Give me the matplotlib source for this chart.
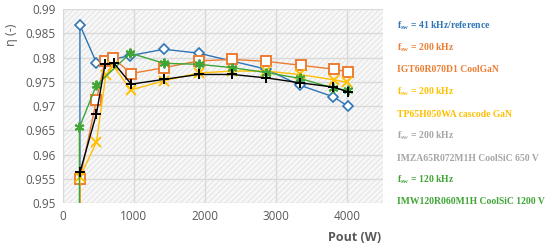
import matplotlib
matplotlib.use("Agg")
import matplotlib.pyplot as plt
from matplotlib.patches import Rectangle

# ---- data ----
blue_x = [242, 242, 474, 950, 1424, 1908, 2858, 3328, 3803, 4003]
blue_y = [0.940, 0.9867, 0.9789, 0.9804, 0.9817, 0.9809, 0.9776, 0.9743, 0.9719, 0.9700]

orange_x = [242, 242, 474, 595, 712, 963, 1424, 1908, 2383, 2863, 3342, 3807, 4013]
orange_y = [0.940, 0.9550, 0.9712, 0.9793, 0.9798, 0.9767, 0.9779, 0.9793, 0.9796, 0.9792, 0.9784, 0.9776, 0.9770]

yellow_x = [242, 242, 474, 605, 712, 954, 1424, 1908, 2383, 2858, 3328, 3807, 3994]
yellow_y = [0.940, 0.9553, 0.9626, 0.9763, 0.9783, 0.9733, 0.9752, 0.9768, 0.9772, 0.9772, 0.9765, 0.9754, 0.9749]

black_x = [242, 474, 595, 721, 963, 1424, 1908, 2383, 2858, 3328, 3803, 4013]
black_y = [0.9563, 0.9684, 0.9786, 0.9788, 0.9745, 0.9755, 0.9765, 0.9765, 0.9758, 0.9748, 0.9739, 0.9729]

green_x = [235, 235, 474, 950, 1424, 1908, 2383, 2858, 3328, 3803, 4003]
green_y = [0.940, 0.9656, 0.9743, 0.9809, 0.9788, 0.9786, 0.9779, 0.9769, 0.9757, 0.9737, 0.9732]

legend_lines = [
    (r"f$_{\mathregular{sw}}$ = 41 kHz/reference", "#2E75B6"),
    (r"f$_{\mathregular{sw}}$ = 200 kHz", "#ED7D31"),
    ("IGT60R070D1 CoolGaN", "#ED7D31"),
    (r"f$_{\mathregular{sw}}$ = 200 kHz", "#FFC000"),
    ("TP65H050WA cascode GaN", "#FFC000"),
    (r"f$_{\mathregular{sw}}$ = 200 kHz", "#A5A5A5"),
    ("IMZA65R072M1H CoolSiC 650 V", "#A5A5A5"),
    (r"f$_{\mathregular{sw}}$ = 120 kHz", "#3FA535"),
    ("IMW120R060M1H CoolSiC 1200 V", "#3FA535"),
]

x_ticks = [0, 1000, 2000, 3000, 4000]
y_ticks = [0.95, 0.955, 0.96, 0.965, 0.97, 0.975, 0.98, 0.985, 0.99]
y_tick_labels = ["0.95", "0.955", "0.96", "0.965", "0.97", "0.975", "0.98", "0.985", "0.99"]

plt.rcParams["hatch.linewidth"] = 0.5
plt.rcParams["mathtext.fontset"] = "custom"
plt.rcParams["mathtext.rm"] = "Liberation Serif:bold"

fig = plt.figure(figsize=(5.5, 2.45), dpi=100)
ax = fig.add_axes([62.7 / 550, 1 - 203 / 245, (383 - 62.7) / 550, (203 - 9) / 245])

ax.set_facecolor("white")
ax.add_patch(Rectangle((0, 0), 1, 1, transform=ax.transAxes, facecolor="#f7f7f7",
                       edgecolor="#dcdcdc", hatch="//////", lw=0, zorder=0))

ax.set_xlim(0, 4500)
ax.set_ylim(0.95, 0.99)
ax.set_xticks(x_ticks)
ax.set_yticks(y_ticks)
ax.set_yticklabels(y_tick_labels)
ax.grid(True, color="#d9d9d9", lw=1.0, zorder=1)
ax.set_axisbelow(True)
for s in ax.spines.values():
    s.set_visible(False)
ax.tick_params(length=0, labelsize=8.5, labelcolor="#595959", pad=5)
for lab in ax.get_xticklabels() + ax.get_yticklabels():
    lab.set_fontfamily("Open Sans")

lw = 1.0
ax.plot(blue_x, blue_y, color="#2E75B6", lw=lw, marker="D", ms=5, mfc="white",
        mec="#2E75B6", mew=1.2, zorder=3)
ax.plot(orange_x, orange_y, color="#ED7D31", lw=lw, marker="s", ms=6.5, mfc="white",
        mec="#ED7D31", mew=1.4, zorder=3)
ax.plot(yellow_x, yellow_y, color="#FFC000", lw=lw, marker="x", ms=6.5,
        mec="#FFC000", mew=1.4, zorder=4)
ax.plot(green_x, green_y, color="#3FA535", lw=lw, marker=(6, 2, 0), ms=7,
        mec="#3FA535", mew=1.4, zorder=4)
ax.plot(black_x, black_y, color="black", lw=lw, marker="+", ms=7,
        mec="black", mew=1.4, zorder=5)

fig.text(12 / 550, 1 - 35 / 245, "η (-)", rotation=90, ha="center", va="center",
         fontsize=9, color="#595959", family="Open Sans")
fig.text(381 / 550, 1 - 237 / 245, "Pout (W)", ha="right", va="center",
         fontsize=9, color="#595959", family="Open Sans", fontweight="bold")

legend_y = [25.7, 47.7, 70, 91.7, 114, 135.7, 158.3, 180, 201.7]
for (txt, col), yy in zip(legend_lines, legend_y):
    fig.text(397 / 550, 1 - yy / 245, txt, ha="left", va="center", fontsize=6.9,
             color=col, family="Liberation Serif", fontweight="bold")

fig.savefig("out.png", dpi=100)
